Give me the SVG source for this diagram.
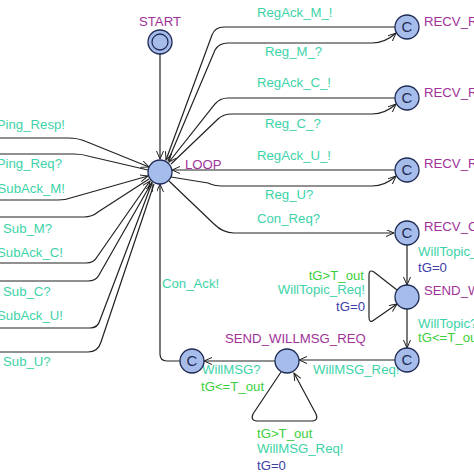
<svg xmlns="http://www.w3.org/2000/svg" width="474" height="474" viewBox="0 0 474 474">
<defs>
<marker id="arr" markerWidth="10" markerHeight="8" refX="8" refY="3.5" orient="auto" markerUnits="userSpaceOnUse">
<path d="M0,0 L8,3.5 L0,7" fill="none" stroke="#222" stroke-width="1"/>
</marker>
<style>
text{font-family:"Liberation Sans",Arial,sans-serif;font-size:13.2px}
.e{fill:none;stroke:#222;stroke-width:1.2}
.a{marker-end:url(#arr)}
.n{fill:#a6bdeb;stroke:#1f2a55;stroke-width:1.3}
.s{fill:#3dd3a8}
.g{fill:#3ccf3c}
.u{fill:#3c3ca8}
.l{fill:#a0329a}
.c{fill:#1f2a55;font-size:15px;text-anchor:middle}
.r{text-anchor:end}
</style>
</defs>
<rect width="474" height="474" fill="#fff"/>
<g id="connectors">
<path class="e a" d="M160,54 V159"/>
<path class="e a" d="M0,138 H68 Q78,138 86,141.5 L149,167"/>
<path class="e" d="M0,154 H74 Q82,154 90,156.5 L148,170"/>
<path class="e a" d="M0,200 H58 Q66,200 74,197 L148,176"/>
<path class="e" d="M0,217 H84 Q92,217 98,212 L149,179"/>
<path class="e a" d="M0,263 H86 Q94,263 97,257 L150,181"/>
<path class="e" d="M0,281 H88 Q96,281 99,275 L152,182"/>
<path class="e a" d="M0,328 H90 Q98,328 100,320 L152,183"/>
<path class="e" d="M0,352 H88 Q98,352 101,342 L154,184"/>
<path class="e a" d="M395,27 H224 Q215,27 212,35 L166,160"/>
<path class="e a" d="M168,161 L215,50 Q219,43 228,43 H372 Q385,43 396,33"/>
<path class="e a" d="M395,98 H228 Q220,98 215,104 L169,162"/>
<path class="e a" d="M171,164 L218,119 Q223,114 232,114 H372 Q385,114 396,104"/>
<path class="e a" d="M395,170 H172"/>
<path class="e a" d="M171,177 L208,183 Q214,186 222,186 H372 Q385,186 396,176"/>
<path class="e a" d="M169,181 L214,224 Q223,233 234,233 H394"/>
<path class="e a" d="M180,361 H167 Q160,361 160,354 V184"/>
<path class="e a" d="M407,245 V285"/>
<path class="e a" d="M407,309 V348"/>
<path class="e a" d="M395,360 H299"/>
<path class="e a" d="M275,361 H204"/>
<path class="e a" d="M397,290 L374,272 Q369,269 369,275 V317 Q369,324 374,320 L397,304"/>
<path class="e a" d="M281,372 L253,414 Q250,421 258,421 H311 Q319,421 316,414 L294,373"/>
</g>
<g id="labels">
<text class="s r" x="65" y="129">Ping_Resp!</text>
<text class="s r" x="62" y="168">Ping_Req?</text>
<text class="s r" x="65" y="193">SubAck_M!</text>
<text class="s" x="3" y="233">Sub_M?</text>
<text class="s r" x="63" y="257">SubAck_C!</text>
<text class="s" x="3" y="296">Sub_C?</text>
<text class="s r" x="63" y="320">SubAck_U!</text>
<text class="s" x="3" y="366">Sub_U?</text>
<text class="s" x="257" y="17">RegAck_M_!</text>
<text class="s" x="265" y="56">Reg_M_?</text>
<text class="s" x="257" y="87">RegAck_C_!</text>
<text class="s" x="265" y="128">Reg_C_?</text>
<text class="s" x="257" y="160">RegAck_U_!</text>
<text class="s" x="265" y="199">Reg_U?</text>
<text class="s" x="257" y="223">Con_Req?</text>
<text class="s" x="162" y="288">Con_Ack!</text>
<text class="s" x="418" y="256">WillTopic_Req!</text>
<text class="u" x="418" y="272">tG=0</text>
<text class="s" x="418" y="328">WillTopic?</text>
<text class="g" x="418" y="342">tG&lt;=T_out</text>
<text class="g r" x="364" y="280">tG&gt;T_out</text>
<text class="s r" x="365" y="294">WillTopic_Req!</text>
<text class="u r" x="365" y="311">tG=0</text>
<text class="s" x="313" y="374">WillMSG_Req!</text>
<text class="s" x="202" y="374">WillMSG?</text>
<text class="g" x="201" y="391">tG&lt;=T_out</text>
<text class="g" x="257" y="438">tG&gt;T_out</text>
<text class="s" x="257" y="453">WillMSG_Req!</text>
<text class="u" x="257" y="470">tG=0</text>
</g>
<g id="START">
<circle class="n" cx="160" cy="42" r="12"/>
<circle fill="none" stroke="#1f2a55" stroke-width="1.3" cx="160" cy="42" r="8"/>
<text class="l" x="160" y="26" text-anchor="middle">START</text>
</g>
<g id="LOOP">
<circle class="n" cx="160" cy="172" r="12"/>
<text class="l" x="185" y="169">LOOP</text>
</g>
<g id="RECV_REG_M">
<circle class="n" cx="407" cy="27" r="12"/>
<text class="c" x="407" y="32">C</text>
<text class="l" x="424" y="26">RECV_REG_M</text>
</g>
<g id="RECV_REG_C">
<circle class="n" cx="407" cy="98" r="12"/>
<text class="c" x="407" y="103">C</text>
<text class="l" x="424" y="97">RECV_REG_C</text>
</g>
<g id="RECV_REG_U">
<circle class="n" cx="407" cy="170" r="12"/>
<text class="c" x="407" y="175">C</text>
<text class="l" x="424" y="168">RECV_REG_U</text>
</g>
<g id="RECV_CON">
<circle class="n" cx="407" cy="233" r="12"/>
<text class="c" x="407" y="238">C</text>
<text class="l" x="424" y="231">RECV_CON</text>
</g>
<g id="SEND_WILLTOPIC_REQ">
<circle class="n" cx="407" cy="297" r="12"/>
<text class="l" x="424" y="295">SEND_WILLTOPIC_REQ</text>
</g>
<g id="RECV_WILLTOPIC">
<circle class="n" cx="407" cy="360" r="12"/>
<text class="c" x="407" y="365">C</text>
</g>
<g id="SEND_WILLMSG_REQ">
<circle class="n" cx="287" cy="361" r="12"/>
<text class="l" x="225" y="343">SEND_WILLMSG_REQ</text>
</g>
<g id="RECV_WILLMSG">
<circle class="n" cx="192" cy="361" r="12"/>
<text class="c" x="192" y="366">C</text>
</g>
</svg>
